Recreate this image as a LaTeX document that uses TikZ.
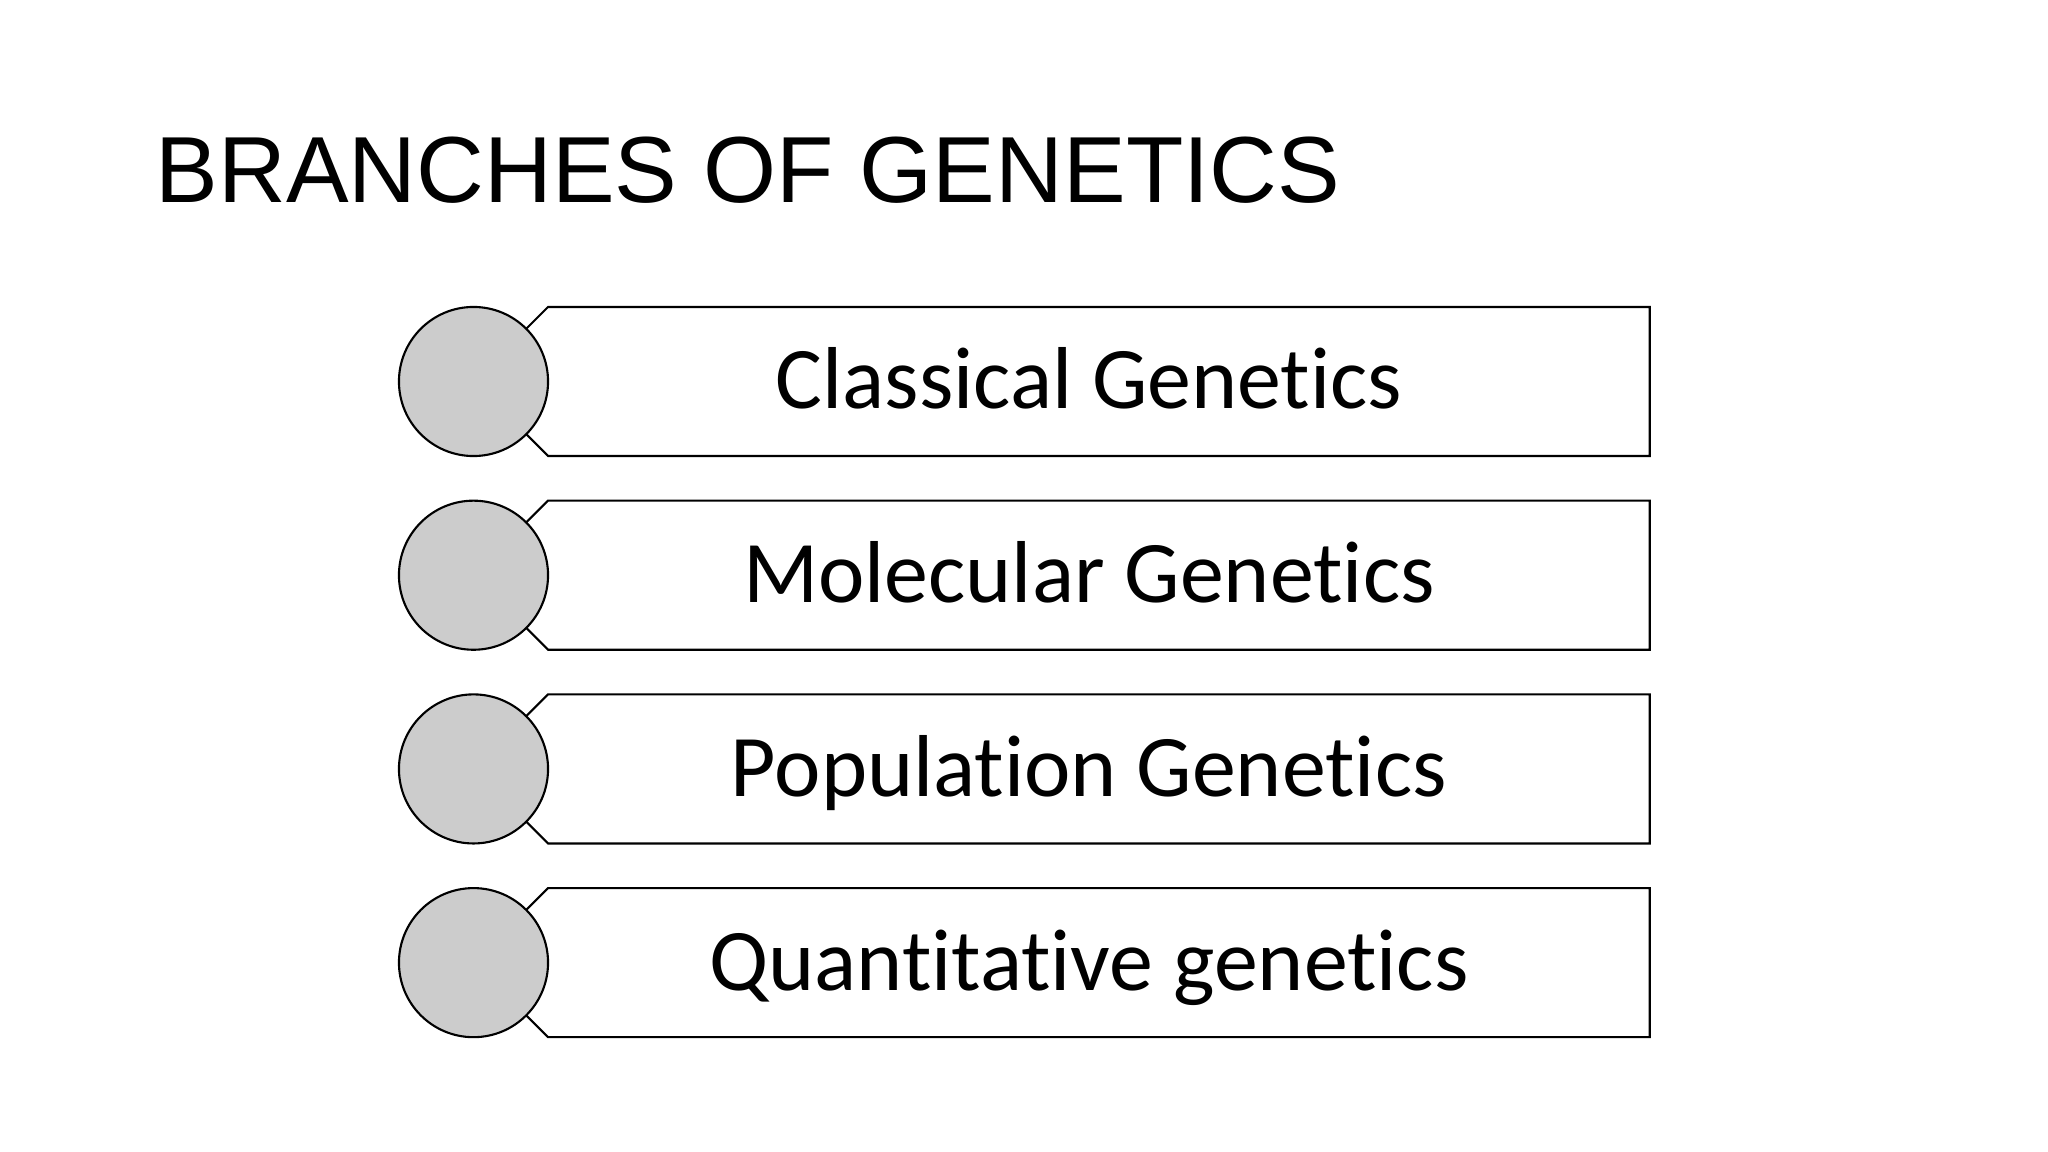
\documentclass[tikz,border=0pt]{standalone}
\usepackage{fontspec}
\setmainfont{Carlito}[Ligatures=NoCommon]
\newfontfamily\headfont{Liberation Sans}
\usetikzlibrary{positioning}
\definecolor{DiskGray}{HTML}{CCCCCC}
\definecolor{RuleBlack}{HTML}{000000}
\tikzset{
    % Grey disc at the left end of each row
    disk/.style={
        circle,
        draw=RuleBlack,
        fill=DiskGray,
        line width=0.6pt,
        minimum size=1.49cm,
        inner sep=0pt,
        outer sep=0pt
    },
    % Invisible frame that holds a row
    rowframe/.style={
        rectangle,
        minimum width=11.01cm,
        minimum height=1.49cm,
        inner sep=0pt,
        outer sep=0pt
    },
    % Row outline
    outline/.style={
        draw=RuleBlack,
        line width=0.6pt,
        line join=miter
    },
    % Row text
    rowtext/.style={
        font=\fontsize{25}{30}\selectfont,
        anchor=base,
        inner sep=0pt
    },
    % Slide heading
    heading/.style={
        font=\headfont\fontsize{26.7}{32}\selectfont,
        anchor=base west,
        inner sep=0pt
    }
}
\begin{document}
\begin{tikzpicture}[x=0.01cm, y=-0.01cm]
        \useasboundingbox[fill=white] (0,0) rectangle (2048,1152);

        % Heading
        \node (title) [heading] at (155,202.4) {BRANCHES OF GENETICS};

        % Discs
        \node (disk1) [disk] at (473.5,381.5) {};
        \node (disk2) [disk, below=0.446cm of disk1] {};
        \node (disk3) [disk, below=0.446cm of disk2] {};
        \node (disk4) [disk, below=0.446cm of disk3] {};

        % Frames
        \node (frame1) [rowframe, right=0pt of disk1] {};
        \node (frame2) [rowframe, right=0pt of disk2] {};
        \node (frame3) [rowframe, right=0pt of disk3] {};
        \node (frame4) [rowframe, right=0pt of disk4] {};

        % Texts
        \node (text1) [rowtext] at ([xshift=-0.1cm, yshift=-0.274cm]frame1.center) {Classical Genetics};
        \node (text2) [rowtext] at ([xshift=-0.1cm, yshift=-0.274cm]frame2.center) {Molecular Genetics};
        \node (text3) [rowtext] at ([xshift=-0.1cm, yshift=-0.274cm]frame3.center) {Population Genetics};
        \node (text4) [rowtext] at ([xshift=-0.1cm, yshift=-0.274cm]frame4.center) {Quantitative genetics};

        % Outlines
        \draw [outline] (disk1.45) -- (frame1.north west) -- (frame1.north east) -- (frame1.south east) -- (frame1.south west) -- (disk1.-45);
        \draw [outline] (disk2.45) -- (frame2.north west) -- (frame2.north east) -- (frame2.south east) -- (frame2.south west) -- (disk2.-45);
        \draw [outline] (disk3.45) -- (frame3.north west) -- (frame3.north east) -- (frame3.south east) -- (frame3.south west) -- (disk3.-45);
        \draw [outline] (disk4.45) -- (frame4.north west) -- (frame4.north east) -- (frame4.south east) -- (frame4.south west) -- (disk4.-45);
    \end{tikzpicture}
\end{document}
